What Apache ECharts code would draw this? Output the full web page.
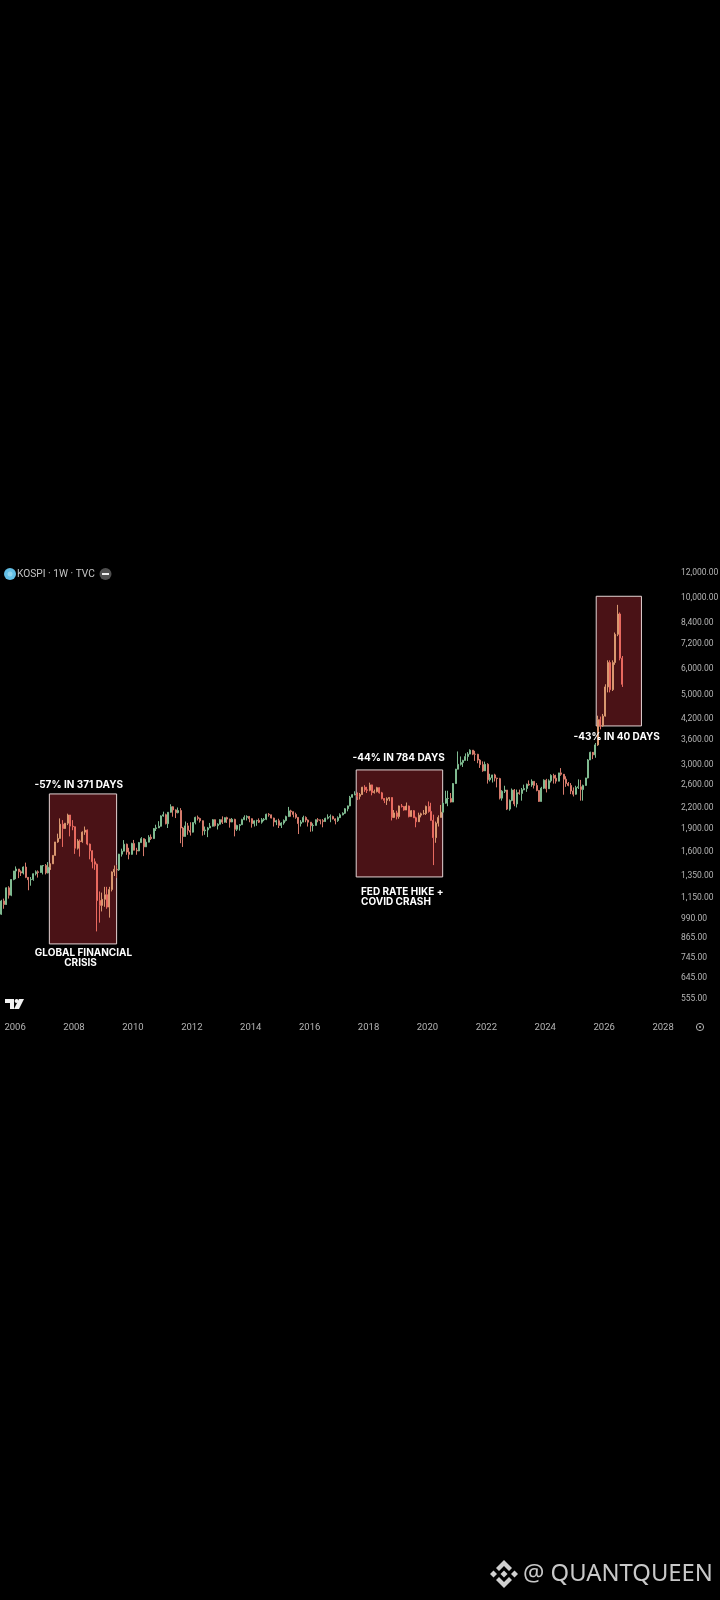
<!DOCTYPE html>
<html><head><meta charset="utf-8">
<style>html,body{margin:0;padding:0;background:#000}#c{width:720px;height:1600px;filter:blur(0.35px)}</style>
<script src="https://cdn.jsdelivr.net/npm/echarts@6/dist/echarts.min.js"></script>
</head><body><div id="c"></div>
<script>
const firstYear = 2005, firstMonth = 6; // July 2005, then one candle per month
const opens = [1010,1111,1083,1221,1158,1297,
1379,1399,1371,1359,1419,1317,1295,1297,1352,1371,1364,1432,
1434,1360,1417,1452,1543,1700,1744,1933,1873,1946,2065,1906,
1897,1625,1712,1704,1825,1852,1674,1595,1474,1448,1114,1076,
1124,1162,1063,1206,1369,1396,1390,1557,1591,1673,1581,1555,
1682,1602,1594,1692,1741,1641,1698,1759,1742,1872,1882,1904,
2051,2069,1939,2106,2192,2142,2100,2133,1880,1769,1909,1847,
1825,1955,2030,2014,1981,1843,1854,1881,1905,1996,1912,1932,
1997,1961,2026,2005,1963,2001,1863,1914,1926,1997,2030,2044,
2011,1941,1980,1985,1961,1995,2002,2076,2068,2020,1964,1981,
1916,1949,1985,2041,2127,2114,2074,2030,1941,1962,2029,1991,
1961,1912,1916,1995,1994,1983,1970,2016,2034,2043,2008,1983,
2026,2067,2091,2160,2205,2347,2391,2402,2363,2394,2523,2476,
2467,2566,2427,2445,2515,2423,2326,2295,2322,2343,2029,2096,
2041,2204,2195,2140,2203,2041,2130,2024,1967,2063,2083,2087,
2197,2119,1987,1754,1947,2029,2108,2249,2326,2327,2267,2591,
2873,2976,3013,3061,3147,3204,3296,3202,3199,3068,2970,2839,
2977,2663,2699,2757,2695,2685,2332,2451,2472,2155,2293,2472,
2236,2425,2412,2476,2501,2577,2564,2632,2556,2465,2277,2505,
2655,2497,2642,2747,2692,2636,2798,2770,2674,2593,2556,2455,
2399,2517,2532,2481,2556,2697,3071,3245,3186,3424,4107,3926,
4214,5200,6200,5100,6200,7600,8800,6400];
const closes = [1111,1083,1221,1158,1297,1379,
1399,1371,1359,1419,1317,1295,1297,1352,1371,1364,1432,1434,
1360,1417,1452,1543,1700,1744,1933,1873,1946,2065,1906,1897,
1625,1712,1704,1825,1852,1674,1595,1474,1448,1114,1076,1124,
1162,1063,1206,1369,1396,1390,1557,1591,1673,1581,1555,1682,
1602,1594,1692,1741,1641,1698,1759,1742,1872,1882,1904,2051,
2069,1939,2106,2192,2142,2100,2133,1880,1769,1909,1847,1825,
1955,2030,2014,1981,1843,1854,1881,1905,1996,1912,1932,1997,
1961,2026,2005,1963,2001,1863,1914,1926,1997,2030,2044,2011,
1941,1980,1985,1961,1995,2002,2076,2068,2020,1964,1981,1916,
1949,1985,2041,2127,2114,2074,2030,1941,1962,2029,1991,1961,
1912,1916,1995,1994,1983,1970,2016,2034,2043,2008,1983,2026,
2067,2091,2160,2205,2347,2391,2402,2363,2394,2523,2476,2467,
2566,2427,2445,2515,2423,2326,2295,2322,2343,2029,2096,2041,
2204,2195,2140,2203,2041,2130,2024,1967,2063,2083,2087,2197,
2119,1987,1754,1947,2029,2108,2249,2326,2327,2267,2591,2873,
2976,3013,3061,3147,3204,3296,3202,3199,3068,2970,2839,2977,
2663,2699,2757,2695,2685,2332,2451,2472,2155,2293,2472,2236,
2425,2412,2476,2501,2577,2564,2632,2556,2465,2277,2505,2655,
2497,2642,2747,2692,2636,2798,2770,2674,2593,2556,2455,2399,
2517,2532,2481,2556,2697,3071,3245,3186,3424,4107,3926,4214,
5200,6200,5100,6200,7600,8800,6400,5300];
const lows = [1005,1050,1080,1130,1150,1290,
1300,1310,1330,1345,1310,1200,1240,1285,1335,1315,1360,1345,
1345,1355,1390,1450,1540,1690,1745,1640,1870,1920,1770,1850,
1560,1610,1530,1690,1790,1660,1500,1405,1390,892,950,1030,
1065,1050,985,1190,1330,1310,1380,1530,1590,1550,1500,1560,
1600,1550,1590,1690,1535,1640,1695,1725,1740,1840,1890,1900,
2040,1930,1880,2100,2040,2020,2090,1685,1640,1770,1790,1780,
1820,1930,1985,1955,1780,1790,1760,1880,1900,1900,1860,1930,
1935,1955,1950,1885,1960,1770,1840,1845,1925,1990,1985,1960,
1885,1900,1910,1950,1940,1975,1990,2040,2015,1900,1920,1880,
1880,1925,1970,2040,2040,2030,2010,1800,1900,1960,1960,1900,
1830,1835,1915,1960,1930,1890,1965,2000,1960,2000,1930,1965,
2020,2060,2080,2120,2200,2340,2380,2300,2310,2400,2440,2420,
2450,2380,2410,2430,2410,2310,2250,2220,2280,1985,2020,2000,
2010,2180,2130,2140,2030,2040,2020,1890,1990,2030,2070,2065,
2100,1980,1439,1690,1900,2030,2095,2240,2200,2260,2270,2600,
2870,2950,2920,3060,3050,3200,3180,3050,3000,2900,2820,2840,
2590,2630,2610,2630,2520,2310,2290,2420,2140,2130,2280,2200,
2180,2390,2290,2470,2440,2550,2530,2500,2450,2270,2280,2490,
2430,2490,2610,2590,2590,2640,2740,2390,2530,2540,2400,2360,
2390,2490,2290,2290,2550,2690,3070,3090,3120,3400,3830,3900,
4200,5000,5000,5050,6100,7500,6300,5200];
const highs = [1120,1130,1225,1235,1300,1380,
1425,1385,1385,1425,1465,1320,1320,1355,1385,1385,1435,1440,
1450,1470,1455,1545,1700,1805,2015,1990,1950,2085,2060,1990,
1900,1735,1730,1835,1900,1860,1680,1600,1510,1455,1190,1180,
1230,1230,1230,1375,1435,1440,1560,1620,1723,1680,1630,1690,
1725,1630,1700,1760,1745,1735,1785,1795,1880,1925,1975,2060,
2115,2085,2110,2231,2200,2150,2180,2170,1895,1970,1950,1960,
1960,2040,2057,2025,1985,1900,1895,1950,2005,2000,1945,2005,
2045,2030,2040,2010,2020,2010,1925,1935,2010,2060,2060,2050,
1975,1985,1995,2015,2020,2020,2085,2093,2070,2025,1995,2010,
1960,2000,2055,2189,2145,2110,2100,2030,1990,2055,2045,2000,
1960,1945,2000,2020,1990,2005,2025,2075,2073,2055,2015,2045,
2090,2105,2170,2210,2370,2400,2450,2430,2420,2530,2560,2530,
2607,2570,2480,2530,2500,2440,2310,2345,2345,2345,2140,2130,
2210,2235,2200,2260,2210,2140,2140,2040,2100,2100,2140,2210,
2277,2255,2070,1970,2060,2220,2260,2460,2460,2420,2600,2880,
3266,3150,3075,3220,3250,3316,3300,3280,3210,3090,3040,3035,
3000,2780,2760,2780,2700,2700,2470,2550,2470,2310,2500,2490,
2480,2480,2510,2570,2590,2650,2670,2630,2600,2470,2530,2670,
2680,2670,2770,2780,2760,2800,2896,2700,2730,2620,2600,2520,
2550,2670,2660,2570,2700,3090,3260,3230,3470,4226,4200,4280,
5300,6300,6300,6300,7700,9400,8900,6500];
const yearTicks = [2006,2008,2010,2012,2014,2016,2018,2020,2022,2024,2026,2028];
const priceTicks = [555,645,745,865,990,1150,1350,1600,1900,2200,2600,3000,3600,4200,5000,6000,7200,8400,10000,12000];
const boxStart = [[2007,2,2],[2017,7,1],[2025,8,24]];
const boxEnd = [[2009,5,13],[2020,6,8],[2027,3,8]];
const boxTop = [2404,2858,10000];
const boxBottom = [815,1321,3925];
const COLORS = {up:'#7fba90',down:'#d67b6c',boxUp:'#d9976f',boxDown:'#e8695f',box:'#4a1216',boxEdge:'#e3d3d3'};

const ts = a => Date.UTC(a[0],a[1],a[2]);
const xMinMs = Date.UTC(2005,5,28), xMaxMs = Date.UTC(2028,4,28);
const YEAR_MS = 365.25*864e5;
const decYear = ms => 1970 + ms/YEAR_MS;
const boxes = boxStart.map((s,i)=>({from:ts(s),to:ts(boxEnd[i]),top:boxTop[i],bottom:boxBottom[i]}));
const candles = closes.map((c,i)=>{
  const t = Date.UTC(firstYear, firstMonth+i, 15);
  const inBox = boxes.some(b=>t>=b.from && t<=b.to);
  const up = c>=opens[i];
  const col = inBox ? (up?COLORS.boxUp:COLORS.boxDown) : (up?COLORS.up:COLORS.down);
  return {value:[t,opens[i],c,lows[i],highs[i]],itemStyle:{color:col,color0:col,borderColor:col,borderColor0:col}};
});
const annotFont = '700 10px Inter, Roboto, sans-serif';
const note = (x,y,text,align)=>({type:'text',x,y,z:20,style:{text,fill:'#ffffff',font:annotFont,align:align||'center',verticalAlign:'middle'}});
const chart = echarts.init(document.getElementById('c'),null,{width:720,height:1600,renderer:'canvas'});
chart.setOption({
  animation:false,
  backgroundColor:'#000000',
  grid:{left:0,top:555,width:675,height:455,containLabel:false,outerBoundsMode:'none'},
  xAxis:[{type:'time',min:xMinMs,max:xMaxMs,
    axisLine:{show:false},axisTick:{show:false},splitLine:{show:false},axisLabel:{show:false}},
   {type:'value',position:'bottom',min:decYear(xMinMs),max:decYear(xMaxMs),scale:true,
    axisLine:{show:false},axisTick:{show:false},splitLine:{show:false},
    axisLabel:{customValues:yearTicks,formatter:v=>String(Math.round(v)),
      color:'#b4b4b4',fontSize:9.5,fontFamily:'Roboto, sans-serif',margin:13,hideOverlap:false}}],
  yAxis:{type:'log',logBase:10,min:506,max:13467,position:'right',
    axisLine:{show:false},axisTick:{show:false},splitLine:{show:false},
    axisLabel:{customValues:priceTicks,formatter:v=>'{p|'+Number(v).toLocaleString('en-US',{minimumFractionDigits:2,maximumFractionDigits:2})+'}',
      margin:6,align:'left',
      rich:{p:{color:'#b4b4b4',fontSize:8.5,fontFamily:'Roboto, sans-serif',padding:[4,0,0,0]}}}},
  series:[{type:'candlestick',name:'KOSPI',xAxisIndex:0,barWidth:1.5,clip:false,data:candles,
    itemStyle:{borderWidth:1},
    markArea:{silent:true,itemStyle:{color:COLORS.box,borderColor:COLORS.boxEdge,borderWidth:1},
      data:boxes.map(b=>[{xAxis:b.from,yAxis:b.top},{xAxis:b.to,yAxis:b.bottom}])}}],
  graphic:[
    {type:'circle',shape:{cx:10,cy:574,r:6},style:{fill:'#63bfe6'},z:20},
    {type:'circle',shape:{cx:10,cy:574,r:2.5},style:{fill:'#8fd5ef'},z:21},
    {type:'text',x:17,y:574,z:20,style:{text:'KOSPI · 1W · TVC',fill:'#c4c4c4',font:'400 10.2px Roboto, sans-serif',align:'left',verticalAlign:'middle'}},
    {type:'circle',shape:{cx:105.5,cy:574,r:6},style:{fill:'#4f4f4f'},z:20},
    {type:'rect',shape:{x:102,y:573,width:7,height:2},style:{fill:'#eeeeee'},z:21},
    note(78.8,785,'-57% IN 371 DAYS'),
    note(83.5,953,'GLOBAL FINANCIAL'),
    note(80.5,963,'CRISIS'),
    note(398.7,758,'-44% IN 784 DAYS'),
    note(361,892,'FED RATE HIKE +','left'),
    note(361,902,'COVID CRASH','left'),
    note(616.7,736.7,'-43% IN 40 DAYS'),
    // TradingView mark
    {type:'polygon',shape:{points:[[5,999],[14,999],[14,1009],[10,1009],[10,1003],[5,1003]]},style:{fill:'#f2f2f2'},z:20},
    {type:'circle',shape:{cx:16.6,cy:1001,r:2},style:{fill:'#f2f2f2'},z:20},
    {type:'polygon',shape:{points:[[19,999],[24,999],[19,1009],[14,1009]]},style:{fill:'#f2f2f2'},z:20},
    // settings icon
    {type:'circle',shape:{cx:700,cy:1027,r:3.6},style:{fill:'none',stroke:'#b4b4b4',lineWidth:1},z:20},
    {type:'circle',shape:{cx:700,cy:1027,r:1},style:{fill:'#b4b4b4'},z:20},
    // Binance mark
    {type:'polygon',shape:{points:[[504,1560],[512,1568],[509,1571],[504,1566],[499,1571],[496,1568]]},style:{fill:'#d0d0d0'},z:20},
    {type:'polygon',shape:{points:[[504,1588],[512,1580],[509,1577],[504,1582],[499,1577],[496,1580]]},style:{fill:'#d0d0d0'},z:20},
    {type:'polygon',shape:{points:[[490,1574],[493.5,1570.5],[497,1574],[493.5,1577.5]]},style:{fill:'#d0d0d0'},z:20},
    {type:'polygon',shape:{points:[[511,1574],[514.5,1570.5],[518,1574],[514.5,1577.5]]},style:{fill:'#d0d0d0'},z:20},
    {type:'polygon',shape:{points:[[500.5,1574],[504,1570.5],[507.5,1574],[504,1577.5]]},style:{fill:'#d0d0d0'},z:20},
    {type:'text',x:523,y:1574,z:20,style:{text:'@ QUANTQUEEN',fill:'#c8c8c8',font:'400 23.8px "Noto Sans", sans-serif',align:'left',verticalAlign:'middle'}}
  ]
});
</script></body></html>
